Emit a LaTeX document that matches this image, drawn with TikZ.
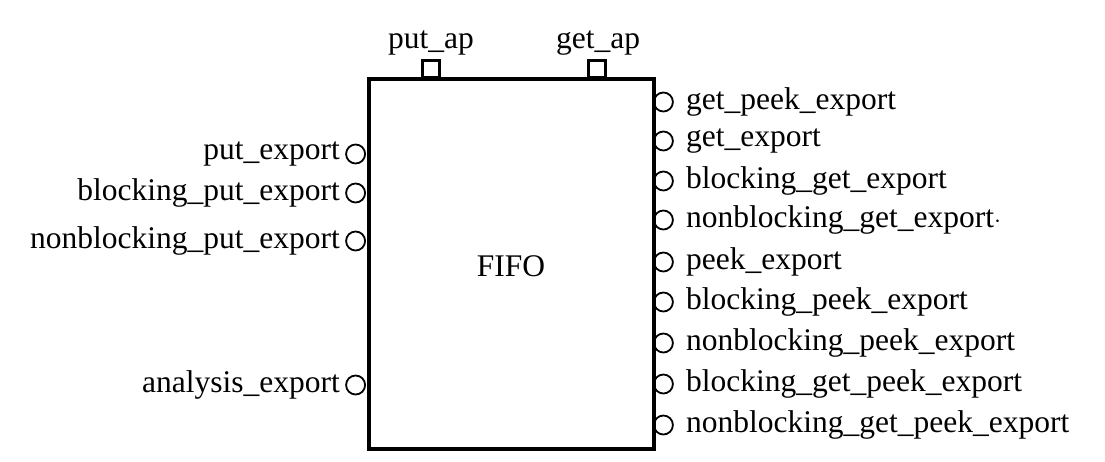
\documentclass[tikz,border=0pt]{standalone}
\usepackage{fontspec}
\setmainfont{Liberation Serif}
\begin{document}
\begin{tikzpicture}[x=1pt,y=-1pt,
  port/.style={circle,draw,line width=1.8pt,minimum size=19pt,inner sep=0pt},
  lab/.style={font=\fontsize{31.5}{33}\selectfont,inner sep=0pt},
  ap/.style={draw,line width=3pt,minimum width=17pt,minimum height=17pt,inner sep=0pt}]
\useasboundingbox (0,0) rectangle (1105,461);
\node[ap] (pa) at (431,69) {};
\node[ap] (ga) at (596.5,69) {};
\node[draw,line width=3.5pt,minimum width=285pt,minimum height=370pt,fill=white,anchor=north west] (box) at (367,77) {};
\node[lab] at (511,266) {FIFO};
\node[lab,anchor=base] (pal) at (431,48) {put\_ap};
\node[lab,anchor=base] (gal) at (598,48) {get\_ap};
\foreach \y/\t [count=\i] in {154/put\_export,193/blocking\_put\_export,241/nonblocking\_put\_export,385/analysis\_export}{
  \node[port,anchor=east] (l\i) at (366,\y) {};
  \node[lab,anchor=east] (lt\i) at (340,\y) {\t};
}
\foreach \y/\t [count=\i] in {102/get\_peek\_export,141/get\_export,181/blocking\_get\_export,220/nonblocking\_get\_export$\cdot$,262/peek\_export,302/blocking\_peek\_export,343/nonblocking\_peek\_export,384/blocking\_get\_peek\_export,425/nonblocking\_get\_peek\_export}{
  \node[port,anchor=west] (r\i) at (653,\y) {};
  \node[lab,anchor=west] (rt\i) at (686,\y) {\t};
}
\end{tikzpicture}
\end{document}
